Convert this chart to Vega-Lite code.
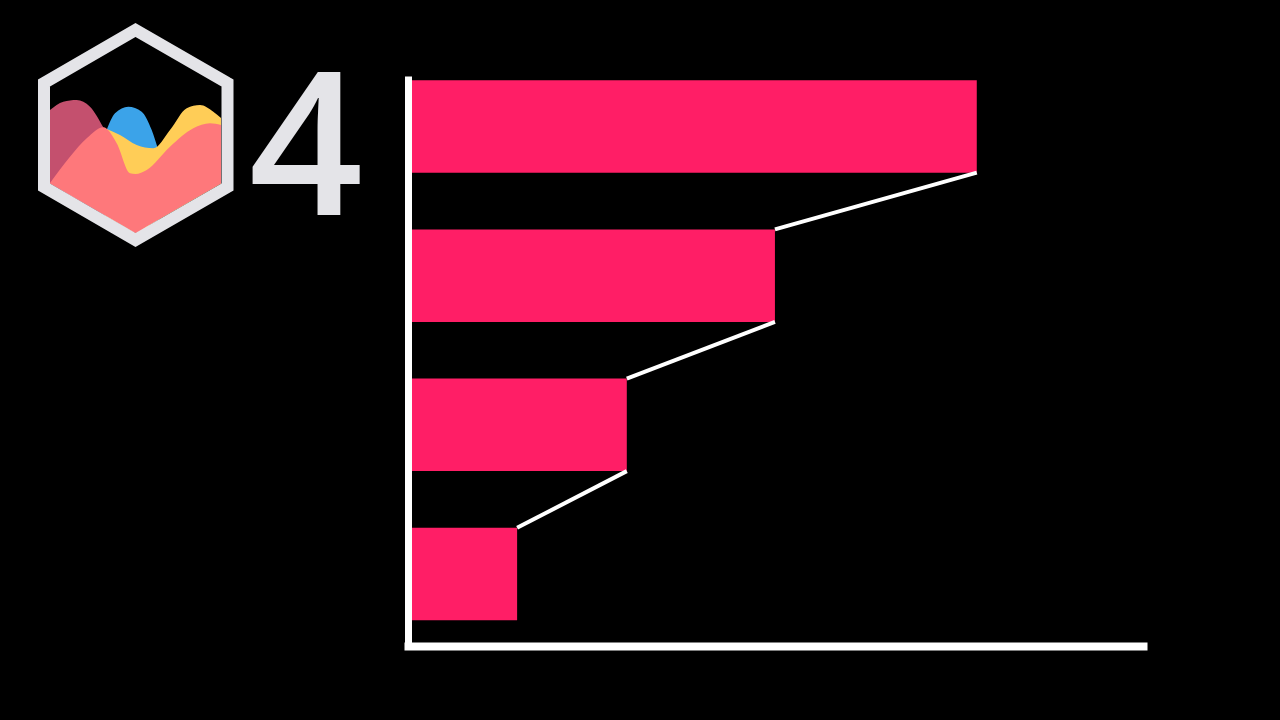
{
  "$schema": "https://vega.github.io/schema/vega-lite/v6.json",
  "width": 735,
  "height": 570,
  "autosize": {"type": "none"},
  "padding": {"left": 408, "top": 76, "right": 137, "bottom": 74},
  "background": "#000000",
  "config": {"view": {"stroke": null}},
  "datasets": {
    "bars": [
      {"cat": "A", "value": 100.6},
      {"cat": "B", "value": 64.9},
      {"cat": "C", "value": 38.7},
      {"cat": "D", "value": 19.3}
    ],
    "links": [
      {"from": "A", "to": "B", "v1": 100.6, "v2": 64.9},
      {"from": "B", "to": "C", "v1": 64.9, "v2": 38.7},
      {"from": "C", "to": "D", "v1": 38.7, "v2": 19.3}
    ],
    "waves": [
      {"series": "rose", "lx": -0.855, "ly": 0.25, "lb": -0.486},
      {"series": "rose", "lx": -0.722, "ly": 0.333, "lb": -0.563},
      {"series": "rose", "lx": -0.588, "ly": 0.35, "lb": -0.641},
      {"series": "rose", "lx": -0.455, "ly": 0.283, "lb": -0.718},
      {"series": "rose", "lx": -0.322, "ly": 0.077, "lb": -0.795},
      {"series": "rose", "lx": -0.188, "ly": -0.183, "lb": -0.872},
      {"series": "blue", "lx": -0.288, "ly": 0.05, "lb": -0.814},
      {"series": "blue", "lx": -0.205, "ly": 0.217, "lb": -0.862},
      {"series": "blue", "lx": -0.072, "ly": 0.283, "lb": -0.939},
      {"series": "blue", "lx": 0.062, "ly": 0.233, "lb": -0.945},
      {"series": "blue", "lx": 0.162, "ly": 0.05, "lb": -0.887},
      {"series": "blue", "lx": 0.228, "ly": -0.15, "lb": -0.849},
      {"series": "yellow", "lx": -0.305, "ly": 0.067, "lb": -0.804},
      {"series": "yellow", "lx": -0.155, "ly": 0.0, "lb": -0.891},
      {"series": "yellow", "lx": 0.012, "ly": -0.1, "lb": -0.974},
      {"series": "yellow", "lx": 0.178, "ly": -0.133, "lb": -0.878},
      {"series": "yellow", "lx": 0.345, "ly": 0.05, "lb": -0.781},
      {"series": "yellow", "lx": 0.512, "ly": 0.267, "lb": -0.685},
      {"series": "yellow", "lx": 0.645, "ly": 0.3, "lb": -0.608},
      {"series": "yellow", "lx": 0.778, "ly": 0.233, "lb": -0.531},
      {"series": "yellow", "lx": 0.855, "ly": 0.17, "lb": -0.486},
      {"series": "red", "lx": -0.855, "ly": -0.48, "lb": -0.486},
      {"series": "red", "lx": -0.655, "ly": -0.217, "lb": -0.602},
      {"series": "red", "lx": -0.488, "ly": -0.033, "lb": -0.698},
      {"series": "red", "lx": -0.322, "ly": 0.077, "lb": -0.795},
      {"series": "red", "lx": -0.188, "ly": -0.083, "lb": -0.872},
      {"series": "red", "lx": -0.055, "ly": -0.383, "lb": -0.949},
      {"series": "red", "lx": 0.0, "ly": -0.39, "lb": -0.981},
      {"series": "red", "lx": 0.112, "ly": -0.35, "lb": -0.916},
      {"series": "red", "lx": 0.345, "ly": -0.117, "lb": -0.781},
      {"series": "red", "lx": 0.578, "ly": 0.067, "lb": -0.646},
      {"series": "red", "lx": 0.745, "ly": 0.117, "lb": -0.55},
      {"series": "red", "lx": 0.855, "ly": 0.1, "lb": -0.486}
    ],
    "hexagon": [
      {"o": 0, "lx": 0.0, "ly": 1.05},
      {"o": 1, "lx": 0.92, "ly": 0.52},
      {"o": 2, "lx": 0.92, "ly": -0.52},
      {"o": 3, "lx": 0.0, "ly": -1.05},
      {"o": 4, "lx": -0.915, "ly": -0.52},
      {"o": 5, "lx": -0.915, "ly": 0.52},
      {"o": 6, "lx": 0.0, "ly": 1.05},
      {"o": 7, "lx": 0.92, "ly": 0.52}
    ],
    "digit": [{"label": "4", "lx": 1.705, "ly": -0.8}]
  },
  "layer": [
    {
      "encoding": {
        "x": {"field": "lx", "type": "quantitative", "scale": {"domain": [2.725, 10.075], "zero": false, "nice": false}, "axis": null},
        "y": {"field": "ly", "type": "quantitative", "stack": null, "scale": {"domain": [-5.11, 0.59], "zero": false, "nice": false}, "axis": null}
      },
      "layer": [
        {"data": {"name": "waves"}, "transform": [{"filter": "datum.series === 'rose'"}], "mark": {"type": "area", "interpolate": "monotone", "color": "#c4506e"}, "encoding": {"y2": {"field": "lb"}}},
        {"data": {"name": "waves"}, "transform": [{"filter": "datum.series === 'blue'"}], "mark": {"type": "area", "interpolate": "monotone", "color": "#3ba3e9"}, "encoding": {"y2": {"field": "lb"}}},
        {"data": {"name": "waves"}, "transform": [{"filter": "datum.series === 'yellow'"}], "mark": {"type": "area", "interpolate": "monotone", "color": "#ffcd57"}, "encoding": {"y2": {"field": "lb"}}},
        {"data": {"name": "waves"}, "transform": [{"filter": "datum.series === 'red'"}], "mark": {"type": "area", "interpolate": "monotone", "color": "#fe787b"}, "encoding": {"y2": {"field": "lb"}}},
        {"data": {"name": "hexagon"}, "mark": {"type": "line", "stroke": "#e4e4e8", "strokeWidth": 12, "strokeJoin": "miter"}, "encoding": {"order": {"field": "o", "type": "quantitative"}}},
        {"data": {"name": "digit"}, "mark": {"type": "text", "font": "Open Sans", "fontSize": 200, "fontWeight": 600, "align": "center", "baseline": "alphabetic", "color": "#e4e4e8"}, "encoding": {"text": {"field": "label"}}}
      ]
    },
    {
      "layer": [
        {
          "data": {"name": "bars"},
          "mark": {"type": "bar", "color": "#ff1e66"},
          "encoding": {
            "x": {"field": "value", "type": "quantitative", "scale": {"domain": [0, 130], "nice": false, "zero": true}, "axis": {"orient": "bottom", "domain": true, "domainColor": "#ffffff", "domainWidth": 8, "domainCap": "square", "ticks": false, "labels": false, "grid": false, "title": null, "zindex": 1}},
            "y": {"field": "cat", "type": "nominal", "scale": {"type": "band", "paddingInner": 0.38, "paddingOuter": 0.1, "align": 0.14}, "axis": {"orient": "left", "domain": true, "domainColor": "#ffffff", "domainWidth": 7, "ticks": false, "labels": false, "grid": false, "title": null, "zindex": 1}}
          }
        },
        {
          "data": {"name": "links"},
          "mark": {"type": "rule", "color": "#ffffff", "strokeWidth": 4},
          "encoding": {
            "x": {"field": "v1", "type": "quantitative"},
            "x2": {"field": "v2"},
            "y": {"field": "from", "type": "nominal", "bandPosition": 1},
            "y2": {"field": "to", "bandPosition": 0}
          }
        }
      ]
    }
  ],
  "resolve": {"scale": {"x": "independent", "y": "independent"}, "axis": {"x": "independent", "y": "independent"}}
}
